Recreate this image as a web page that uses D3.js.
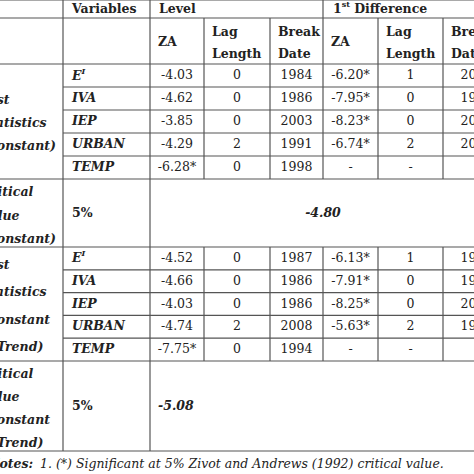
<!DOCTYPE html>
<html><head><meta charset="utf-8">
<script src="https://cdn.jsdelivr.net/npm/d3@7"></script>
<style>body{margin:0;background:#fff}svg{display:block}text{font-family:"DejaVu Serif",serif;font-size:12.5px;fill:#222}</style>
</head><body>
<script>
// Table data
var variables = ["E", "IVA", "IEP", "URBAN", "TEMP"];
var levelZA1 = ["-4.03", "-4.62", "-3.85", "-4.29", "-6.28*"];
var levelLag1 = ["0", "0", "0", "2", "0"];
var levelBreak1 = ["1984", "1986", "2003", "1991", "1998"];
var diffZA1 = ["-6.20*", "-7.95*", "-8.23*", "-6.74*", "-"];
var diffLag1 = ["1", "0", "0", "2", "-"];
var diffBreak1 = ["2007", "1994", "2006", "2002", "-"];
var levelZA2 = ["-4.52", "-4.66", "-4.03", "-4.74", "-7.75*"];
var levelLag2 = ["0", "0", "0", "2", "0"];
var levelBreak2 = ["1987", "1986", "1986", "2008", "1994"];
var diffZA2 = ["-6.13*", "-7.91*", "-8.25*", "-5.63*", "-"];
var diffLag2 = ["1", "0", "0", "2", "-"];
var diffBreak2 = ["1995", "1993", "2001", "1997", "-"];

var w = 474, h = 474;
var cols = [-40, 63, 150, 204, 270, 323, 378, 443, 510];
var svg = d3.select("body").append("svg").attr("width", w).attr("height", h);
var g = svg.append("g");
var line = function(x1, y1, x2, y2) {
    g.append("line").attr("x1", x1).attr("y1", y1).attr("x2", x2).attr("y2", y2)
        .attr("stroke", "#555").attr("stroke-width", 1.2);
};
var txt = function(x, y, s, anchor, style) {
    var t = g.append("text").attr("x", x).attr("y", y).attr("text-anchor", anchor || "middle")
        .attr("dominant-baseline", "middle");
    if (style && style.b) t.attr("font-weight", "bold");
    if (style && style.i) t.attr("font-style", "italic");
    return t;
};
var mid = function(i) { return (cols[i] + cols[i + 1]) / 2; };

// header
line(cols[0], 18, w, 18);
line(cols[0], 64, w, 64);
txt(72, 9, "", "start", {b: 1}).text("Variables");
txt(159, 9, "", "start", {b: 1}).text("Level");
var d = txt(333, 9, "", "start", {b: 1});
d.append("tspan").text("1");
d.append("tspan").attr("font-size", "8px").attr("dy", -4).text("st");
d.append("tspan").attr("dy", 4).text(" Difference");
[[3, ["ZA"]], [4, ["Lag", "Length"]], [5, ["Break", "Date"]], [6, ["ZA"]], [7, ["Lag", "Length"]], [8, ["Break", "Date"]]]
    .forEach(function(c) {
        var x = cols[c[0] - 1] + 8;
        c[1].forEach(function(s, k) {
            var y = c[1].length === 1 ? 42 : 32 + k * 22;
            txt(x, y, "", "start", {b: 1}).text(s);
        });
    });

function block(top, bottom, cols6, critBottom, lab, critVal, critX, critAnchor) {
    var y = d3.scaleBand().domain(variables).range([top, bottom]);
    variables.forEach(function(v, k) {
        if (k > 0) line(cols[1], y(v), w, y(v));
        var t = txt(72, y(v) + y.bandwidth() / 2, "", "start", {b: 1, i: 1});
        if (v === "E") {
            t.append("tspan").text("E");
            t.append("tspan").attr("font-size", "8px").attr("dy", -4).text("I");
        } else t.text(v);
        cols6.forEach(function(arr, j) {
            txt(mid(j + 2), y(v) + y.bandwidth() / 2).text(arr[k]);
        });
    });
    var ly = d3.scaleBand().domain(lab.block).range(lab.range).paddingOuter(lab.pad);
    lab.block.forEach(function(s) {
        txt(-19, ly(s) + ly.bandwidth() / 2, "", "start", {b: 1, i: 1}).text(s);
    });
    line(cols[0], bottom, w, bottom);
    var cy = d3.scaleBand().domain(lab.crit).range([bottom, critBottom + 6]).paddingOuter(0.1);
    lab.crit.forEach(function(s) {
        txt(-19, cy(s) + cy.bandwidth() / 2, "", "start", {b: 1, i: 1}).text(s);
    });
    txt(72, (bottom + critBottom) / 2, "", "start", {b: 1}).text("5%");
    txt(critX, (bottom + critBottom) / 2, "", critAnchor, {b: 1, i: 1}).text(critVal);
    line(cols[0], critBottom, w, critBottom);
}

block(64, 179, [levelZA1, levelLag1, levelBreak1, diffZA1, diffLag1, diffBreak1], 247,
    {block: ["Test", "Statistics", "(Constant)"], crit: ["Critical", "Value", "(Constant)"], range: [78, 169], pad: 0.52},
    "-4.80", 323, "middle");
block(247, 361, [levelZA2, levelLag2, levelBreak2, diffZA2, diffLag2, diffBreak2], 451,
    {block: ["Test", "Statistics", "(Constant", "& Trend)"], crit: ["Critical", "Value", "(Constant", "& Trend)"], range: [249, 364], pad: 0.1},
    "-5.08", 158, "start");

// vertical lines
[1, 2].forEach(function(i) { line(cols[i], 0, cols[i], 451); });
[3, 4, 6, 7].forEach(function(i) { line(cols[i], 18, cols[i], 179); line(cols[i], 247, cols[i], 361); });
line(cols[5], 0, cols[5], 179);
line(cols[5], 247, cols[5], 361);
line(cols[0], 0, w, 0);

txt(-12, 464, "", "start", {b: 1, i: 1}).text("Notes:");
txt(40, 464, "", "start", {i: 1}).text("1. (*) Significant at 5% Zivot and Andrews (1992) critical value.");
</script>
</body></html>
